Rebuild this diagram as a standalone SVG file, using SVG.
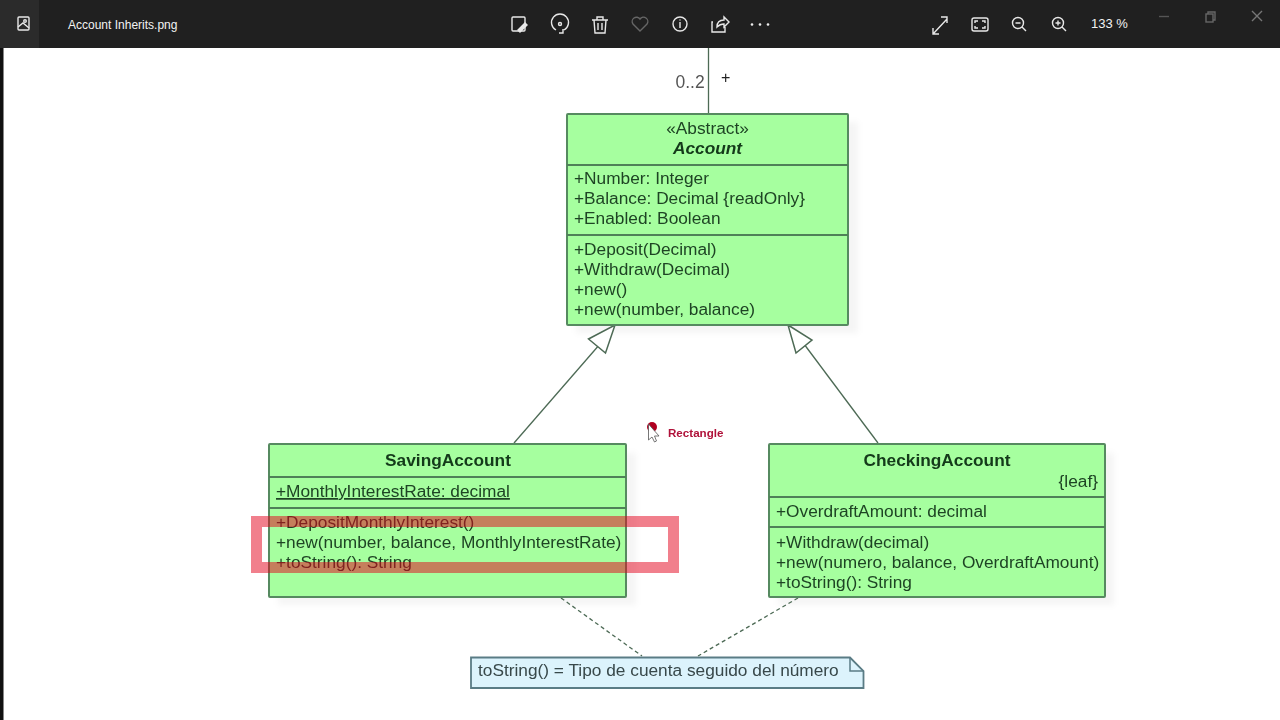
<svg xmlns="http://www.w3.org/2000/svg" width="1280" height="720" viewBox="0 0 1280 720">
<defs>
<style>
text{font-family:"Liberation Sans",Arial,sans-serif}
.t{font-size:17.3px;fill:#1e4424}
.h{font-size:17.3px;font-weight:bold;fill:#143a1a}
.box{fill:#a6ff9f;stroke:#568a60;stroke-width:2}
.sep{stroke:#4f8058;stroke-width:2}
.sh{fill:#000;opacity:.04}
.con{stroke:#4d6a55;stroke-width:1.3;fill:none}
.dash{stroke:#4d6a55;stroke-width:1.3;fill:none;stroke-dasharray:4 3}
.head{fill:#fff;stroke:#4d6a55;stroke-width:1.5}
.ui{stroke:#e8e8e8;stroke-width:1.4;fill:none}
.uit{fill:#f2f2f2;font-size:12px}
</style>
<filter id="blur" x="-10%" y="-10%" width="120%" height="120%"><feGaussianBlur stdDeviation="3"/></filter>
</defs>
<rect width="1280" height="720" fill="#fff"/>
<rect x="0" y="48" width="3.5" height="672" fill="#111"/>

<g id="toolbar">
<rect width="1280" height="48" fill="#202020"/>
<rect x="0" width="39" height="48" fill="#2b2b2b"/>
<g class="ui">
<rect x="18" y="17" width="11" height="13" rx="1"/><circle cx="25" cy="21" r="1.3"/><path d="M18 27l5-4 6 5"/>
<rect x="512" y="17" width="13" height="14" rx="1"/><path d="M518 30l7-7 2 2-7 7z" fill="#e8e8e8"/>
<path d="M556 30a8.500 8.500 0 1 1 8 0M563 29v4h-4"/><circle cx="560" cy="24" r="1.500"/>
<path d="M592 20h16M597 20v-3h6v3M594 20l1 13h10l1-13M598 23v7M602 23v7"/>
<path d="M640 31l-7-7a4 4 0 0 1 7-5a4 4 0 0 1 7 5z" stroke="#666"/>
<circle cx="680" cy="24" r="7"/><path d="M680 22v6M680 19.500v1"/>
<path d="M713 22h-1v10h13v-5M717 27c0-5 3-7 7-7v-3l5 5-5 5v-3c-3 0-5 1-7 3z"/>
<path d="M933 34l14-15M933 28v6h6M941 17h6v6"/>
<rect x="972" y="18" width="16" height="13" rx="2"/><path d="M975 23v-2h3M985 23v-2h-3M975 26v2h3M985 26v2h-3"/>
<circle cx="1018" cy="23" r="5.500"/><path d="M1015.500 23h5M1022 27l4 4"/>
<circle cx="1058" cy="23" r="5.500"/><path d="M1055.500 23h5M1058 20.500v5M1062 27l4 4"/>
<path d="M1159 16.500h10" stroke="#555"/>
<rect x="1206" y="14" width="7" height="8" stroke="#666"/><path d="M1208 14v-2h7v8h-2" stroke="#666"/>
<path d="M1252 11l10 10M1262 11l-10 10" stroke="#777"/>
</g>
<circle cx="752" cy="24.500" r="1.300" fill="#eee"/><circle cx="760" cy="24.500" r="1.300" fill="#eee"/><circle cx="768" cy="24.500" r="1.300" fill="#eee"/>
<text class="uit" x="68" y="29">Account Inherits.png</text>
<text x="1091" y="28" fill="#f2f2f2" font-size="13">133 %</text>
</g>

<g id="shadows" filter="url(#blur)">
<rect class="sh" x="576" y="122" width="282" height="211"/>
<rect class="sh" x="278" y="453" width="358" height="152"/>
<rect class="sh" x="778" y="453" width="336" height="152"/>
</g>

<g id="connectors">
<path class="con" d="M708.500 48V113"/>
<path class="con" d="M514 443L600 344"/>
<path class="con" d="M878 443L804 344"/>
<path class="head" d="M615 325L605.500 353L588.500 339Z"/>
<path class="head" d="M788 325L812 340L796 353Z"/>
<path class="dash" d="M561 598L642 656"/>
<path class="dash" d="M798 598L698 656"/>
</g>

<g id="labels">
<text x="675.500" y="88" font-size="17.500" fill="#555">0..2</text>
<text x="721" y="83" font-size="16" fill="#222">+</text>
</g>

<g id="account">
<rect class="box" x="567" y="114" width="281" height="211" rx="1"/>
<path class="sep" d="M567 165H848M567 235H848"/>
<text class="t" x="707.500" y="134" text-anchor="middle">«Abstract»</text>
<text class="h" x="707.500" y="154" text-anchor="middle" font-style="italic">Account</text>
<text class="t" x="574" y="184">+Number: Integer</text>
<text class="t" x="574" y="204">+Balance: Decimal {readOnly}</text>
<text class="t" x="574" y="224">+Enabled: Boolean</text>
<text class="t" x="574" y="255">+Deposit(Decimal)</text>
<text class="t" x="574" y="275">+Withdraw(Decimal)</text>
<text class="t" x="574" y="295">+new()</text>
<text class="t" x="574" y="315">+new(number, balance)</text>
</g>

<g id="saving-account">
<rect class="box" x="269" y="444" width="357" height="153" rx="1"/>
<path class="sep" d="M269 477H626M269 508H626"/>
<text class="h" x="448" y="466" text-anchor="middle">SavingAccount</text>
<text class="t" x="276" y="497" text-decoration="underline">+MonthlyInterestRate: decimal</text>
<text class="t" x="276" y="528">+DepositMonthlyInterest()</text>
<text class="t" x="276" y="548">+new(number, balance, MonthlyInterestRate)</text>
<text class="t" x="276" y="568">+toString(): String</text>
</g>

<g id="checking-account">
<rect class="box" x="769" y="444" width="336" height="153" rx="1"/>
<path class="sep" d="M769 497H1105M769 527H1105"/>
<text class="h" x="937" y="466" text-anchor="middle">CheckingAccount</text>
<text class="t" x="1098" y="487" text-anchor="end">{leaf}</text>
<text class="t" x="776" y="517">+OverdraftAmount: decimal</text>
<text class="t" x="776" y="548">+Withdraw(decimal)</text>
<text class="t" x="776" y="568">+new(numero, balance, OverdraftAmount)</text>
<text class="t" x="776" y="588">+toString(): String</text>
</g>

<g id="note">
<path d="M471 657.500H850L863.500 671V688H471Z" fill="#dcf3fc" stroke="#5a7c85" stroke-width="1.800"/>
<path d="M850 657.500V671H863.500" fill="none" stroke="#5a7c85" stroke-width="1.500"/>
<text x="478" y="676" font-size="17.300" fill="#38484a">toString() = Tipo de cuenta seguido del número</text>
</g>

<g id="highlight">
<path fill-rule="evenodd" fill="#e4001a" fill-opacity=".5" d="M251 516H679V573H251ZM262 527V562H668V527Z"/>
</g>

<g id="cursor">
<circle cx="652" cy="427" r="5" fill="#b00020"/>
<path d="M648.500 424V440L652 437L654.500 442L656.500 441L654.500 436H659Z" fill="#fff" stroke="#555" stroke-width=".8"/>
<text x="668" y="437" font-size="11.600" font-weight="bold" fill="#b0123a">Rectangle</text>
</g>
</svg>
